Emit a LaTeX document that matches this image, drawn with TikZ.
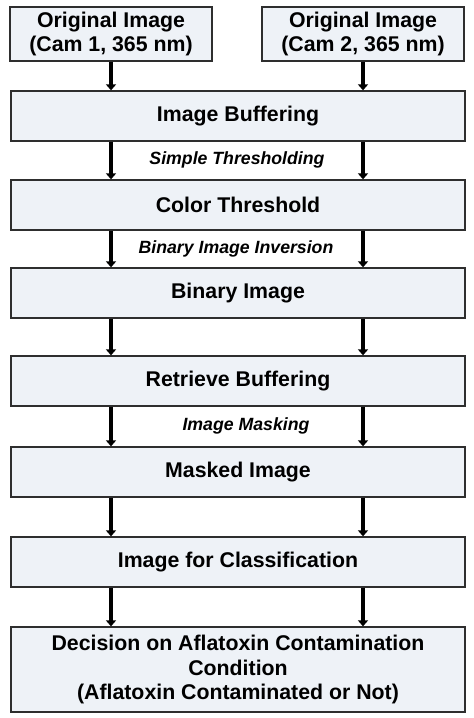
\documentclass[tikz,border=0pt]{standalone}
\usepackage{fontspec}
\setmainfont{Liberation Sans}
\usepackage{tikz}
\usetikzlibrary{arrows.meta}

\definecolor{boxfill}{HTML}{EEF2F7}
\definecolor{boxline}{HTML}{2E2E2E}

\tikzset{
    stage/.style={draw=boxline, line width=1.3pt, fill=boxfill, inner sep=0pt,
        minimum width=454pt, minimum height=50pt, align=center,
        font=\fontsize{21.3}{24.5}\selectfont\bfseries},
    source/.style={stage, minimum width=202pt, minimum height=54pt},
    oplabel/.style={font=\fontsize{17.7}{20}\selectfont\bfseries\itshape},
    arr/.style={line width=3.8pt, -{Triangle[width=10pt,length=6pt]}}
}

\begin{document}
\begin{tikzpicture}[x=1pt, y=-1pt]
        \useasboundingbox (0,0) rectangle (474,718);

        \node[source] (cam1) at (111, 34) {Original Image\\(Cam 1, 365 nm)};
        \node[source] (cam2) at (363, 34) {Original Image\\(Cam 2, 365 nm)};
        \node[stage] (buff) at (238, 116) {Image Buffering};
        \node[stage] (thresh) at (238, 205) {Color Threshold};
        \node[stage] (binary) at (238, 293) {Binary Image};
        \node[stage] (retrieve) at (238, 381) {Retrieve Buffering};
        \node[stage] (masked) at (238, 472) {Masked Image};
        \node[stage] (classif) at (238, 562) {Image for Classification};
        \node[stage, minimum height=85pt] (decision) at (238, 669.5)
            {Decision on Aflatoxin Contamination\\Condition\\(Aflatoxin Contaminated or Not)};

        \node[oplabel] (simple) at (237, 160) {Simple Thresholding};
        \node[oplabel] (invert) at (236, 249) {Binary Image Inversion};
        \node[oplabel] (masking) at (246, 426) {Image Masking};

        \draw[arr] (cam1.south) -- (buff.north -| cam1);
        \draw[arr] (cam2.south) -- (buff.north -| cam2);
        \draw[arr] (buff.south -| cam1) -- (thresh.north -| cam1);
        \draw[arr] (buff.south -| cam2) -- (thresh.north -| cam2);
        \draw[arr] (thresh.south -| cam1) -- (binary.north -| cam1);
        \draw[arr] (thresh.south -| cam2) -- (binary.north -| cam2);
        \draw[arr] (binary.south -| cam1) -- (retrieve.north -| cam1);
        \draw[arr] (binary.south -| cam2) -- (retrieve.north -| cam2);
        \draw[arr] (retrieve.south -| cam1) -- (masked.north -| cam1);
        \draw[arr] (retrieve.south -| cam2) -- (masked.north -| cam2);
        \draw[arr] (masked.south -| cam1) -- (classif.north -| cam1);
        \draw[arr] (masked.south -| cam2) -- (classif.north -| cam2);
        \draw[arr] (classif.south -| cam1) -- (decision.north -| cam1);
        \draw[arr] (classif.south -| cam2) -- (decision.north -| cam2);
    \end{tikzpicture}
\end{document}
